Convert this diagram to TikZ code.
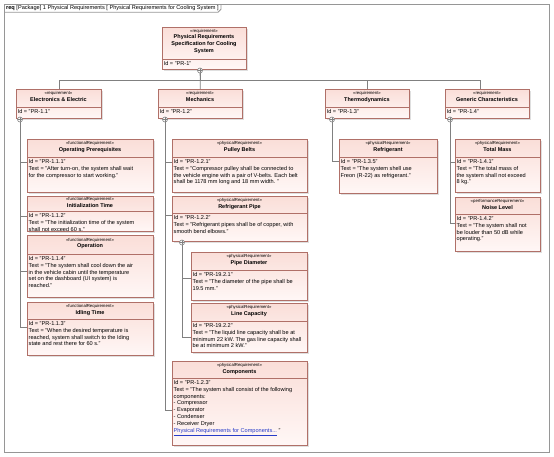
\documentclass[tikz,border=0pt]{standalone}
\usepackage{xcolor}
\usepackage{fontspec}
\setmainfont{Liberation Sans}
\usetikzlibrary{shadows}

\definecolor{reqborder}{RGB}{176,112,104}
\definecolor{reqtop}{RGB}{250,222,216}
\definecolor{reqbottom}{RGB}{255,247,246}
\definecolor{linkgray}{RGB}{128,128,128}
\definecolor{framegray}{RGB}{150,150,150}
\definecolor{hyperblue}{RGB}{40,60,200}

\tikzset{
  reqbox/.style={draw=reqborder, line width=0.7pt, top color=reqtop, bottom color=reqbottom, anchor=north west, inner sep=0pt, drop shadow={shadow xshift=1.2pt, shadow yshift=-1.2pt, fill=black!25}},
  reqhead/.style={anchor=north, align=center, inner sep=0pt, font=\fontsize{5.5}{6.6}\selectfont},
  reqtext/.style={anchor=north west, align=left, inner xsep=1.5pt, inner ysep=2pt, font=\fontsize{5.6}{6.9}\selectfont},
  reqline/.style={draw=reqborder, line width=0.7pt},
  link/.style={draw=linkgray, line width=0.7pt},
  owner/.style={circle, draw=linkgray, fill=white, line width=0.6pt, minimum size=5pt, inner sep=0pt, path picture={\draw[linkgray, line width=0.5pt] (path picture bounding box.north) -- (path picture bounding box.south) (path picture bounding box.west) -- (path picture bounding box.east);}},
}
\newcommand{\stereo}[1]{{\fontsize{4.3}{5.5}\selectfont «#1»}}

\begin{document}
\begin{tikzpicture}[x=1pt,y=1pt,yscale=-1,xscale=1]
\useasboundingbox (0,0) rectangle (554,456);

%Frame
\draw[framegray, line width=0.8pt] (4,4) rectangle (549,452);
\node[anchor=north west, inner xsep=2pt, inner ysep=1.3pt, font=\fontsize{5.6}{6.5}\selectfont] (tab) at (4,4) {\textbf{req} [Package] 1 Physical Requirements [ Physical Requirements for Cooling System ]};
\draw[framegray, line width=0.8pt] (tab.south west) -- ([xshift=-3pt]tab.south east) -- ++(3,-3) -- (tab.north east);

%Shape: Physical Requirements Specification
\node[reqbox, minimum width=84pt, minimum height=42pt] (pr1) at (162,27) {};
\draw[reqline] (162,59) -- (246,59);
\node[reqhead] (pr1-h) at (204,29) {\stereo{requirement}\\\textbf{Physical Requirements}\\\textbf{Specification for Cooling}\\\textbf{System}};
\node[reqtext] (pr1-t) at (162,59) {Id = "PR-1"};

%Shape: Electronics & Electric
\node[reqbox, minimum width=85pt, minimum height=29pt] (ee) at (16,89) {};
\draw[reqline] (16,107) -- (101,107);
\node[reqhead] (ee-h) at (58.5,91.5) {\stereo{requirement}\\\textbf{Electronics \& Electric}};
\node[reqtext] (ee-t) at (16,107) {Id = "PR-1.1"};
%Shape: Mechanics
\node[reqbox, minimum width=84pt, minimum height=29pt] (mech) at (158,89) {};
\draw[reqline] (158,107) -- (242,107);
\node[reqhead] (mech-h) at (200,91.5) {\stereo{requirement}\\\textbf{Mechanics}};
\node[reqtext] (mech-t) at (158,107) {Id = "PR-1.2"};
%Shape: Thermodynamics
\node[reqbox, minimum width=84pt, minimum height=29pt] (thermo) at (325,89) {};
\draw[reqline] (325,107) -- (409,107);
\node[reqhead] (thermo-h) at (367,91.5) {\stereo{requirement}\\\textbf{Thermodynamics}};
\node[reqtext] (thermo-t) at (325,107) {Id = "PR-1.3"};
%Shape: Generic Characteristics
\node[reqbox, minimum width=84pt, minimum height=29pt] (gen) at (445,89) {};
\draw[reqline] (445,107) -- (529,107);
\node[reqhead] (gen-h) at (487,91.5) {\stereo{requirement}\\\textbf{Generic Characteristics}};
\node[reqtext] (gen-t) at (445,107) {Id = "PR-1.4"};

%Shape: Operating Prerequisites
\node[reqbox, minimum width=126pt, minimum height=53pt] (opp) at (27,139) {};
\draw[reqline] (27,157) -- (153,157);
\node[reqhead] (opp-h) at (90,141.5) {\stereo{functionalRequirement}\\\textbf{Operating Prerequisites}};
\node[reqtext] (opp-t) at (27,157) {Id = "PR-1.1.1"\\Text = "After turn-on, the system shall wait\\for the compressor to start working."};
%Shape: Initialization Time
\node[reqbox, minimum width=126pt, minimum height=35pt] (init) at (27,196) {};
\draw[reqline] (27,211) -- (153,211);
\node[reqhead] (init-h) at (90,197.5) {\stereo{functionalRequirement}\\\textbf{Initialization Time}};
\node[reqtext] (init-t) at (27,211) {Id = "PR-1.1.2"\\Text = "The initialization time of the system\\shall not exceed 60 s."};
%Shape: Operation
\node[reqbox, minimum width=126pt, minimum height=62pt] (oper) at (27,235) {};
\draw[reqline] (27,254) -- (153,254);
\node[reqhead] (oper-h) at (90,238) {\stereo{functionalRequirement}\\\textbf{Operation}};
\node[reqtext] (oper-t) at (27,254) {Id = "PR-1.1.4"\\Text = "The system shall cool down the air\\in the vehicle cabin until the temperature\\set on the dashboard (UI system) is\\reached."};
%Shape: Idling Time
\node[reqbox, minimum width=126pt, minimum height=53pt] (idle) at (27,302) {};
\draw[reqline] (27,319) -- (153,319);
\node[reqhead] (idle-h) at (90,304.5) {\stereo{functionalRequirement}\\\textbf{Idling Time}};
\node[reqtext] (idle-t) at (27,319) {Id = "PR-1.1.3"\\Text = "When the desired temperature is\\reached, system shall switch to the Iding\\state and rest there for 60 s."};

%Shape: Pulley Belts
\node[reqbox, minimum width=135pt, minimum height=53pt] (pulley) at (172,139) {};
\draw[reqline] (172,157) -- (307,157);
\node[reqhead] (pulley-h) at (239.5,141.5) {\stereo{physicalRequirement}\\\textbf{Pulley Belts}};
\node[reqtext] (pulley-t) at (172,157) {Id = "PR-1.2.1"\\Text = "Compressor pulley shall be connected to\\the vehicle engine with a pair of V-belts. Each belt\\shall be 1178 mm long and 18 mm width. "};
%Shape: Refrigerant Pipe
\node[reqbox, minimum width=135pt, minimum height=45pt] (pipe) at (172,196) {};
\draw[reqline] (172,213) -- (307,213);
\node[reqhead] (pipe-h) at (239.5,198.5) {\stereo{physicalRequirement}\\\textbf{Refrigerant Pipe}};
\node[reqtext] (pipe-t) at (172,213) {Id = "PR-1.2.2"\\Text = "Refrigerant pipes shall be of copper, with\\smooth bend elbows."};
%Shape: Pipe Diameter
\node[reqbox, minimum width=116pt, minimum height=48pt] (diam) at (191,252) {};
\draw[reqline] (191,270) -- (307,270);
\node[reqhead] (diam-h) at (249,254.5) {\stereo{physicalRequirement}\\\textbf{Pipe Diameter}};
\node[reqtext] (diam-t) at (191,270) {Id = "PR-19.2.1"\\Text = "The diameter of the pipe shall be\\19.5 mm."};
%Shape: Line Capacity
\node[reqbox, minimum width=116pt, minimum height=49pt] (linecap) at (191,303) {};
\draw[reqline] (191,321) -- (307,321);
\node[reqhead] (linecap-h) at (249,305.5) {\stereo{physicalRequirement}\\\textbf{Line Capacity}};
\node[reqtext] (linecap-t) at (191,321) {Id = "PR-19.2.2"\\Text = "The liquid line capacity shall be at\\minimum 22 kW. The gas line capacity shall\\be at minimum 2 kW."};
%Shape: Components
\node[reqbox, minimum width=135pt, minimum height=84pt] (comp) at (172,361) {};
\draw[reqline] (172,378) -- (307,378);
\node[reqhead] (comp-h) at (239.5,363.5) {\stereo{physicalRequirement}\\\textbf{Components}};
\node[reqtext] (comp-t) at (172,378) {Id = "PR-1.2.3"\\Text = "The system shall consist of the following\\components:\\- Compressor\\- Evaporator\\- Condenser\\- Receiver Dryer\\{\color{hyperblue}\underline{Physical Requirements for Components...}}~"};

%Shape: Refrigerant
\node[reqbox, minimum width=98pt, minimum height=54pt] (refr) at (339,139) {};
\draw[reqline] (339,157) -- (437,157);
\node[reqhead] (refr-h) at (388,141.5) {\stereo{physicalRequirement}\\\textbf{Refrigerant}};
\node[reqtext] (refr-t) at (339,157) {Id = "PR-1.3.5"\\Text = "The system shell use\\Freon (R-22) as refrigerant."};

%Shape: Total Mass
\node[reqbox, minimum width=85pt, minimum height=53pt] (mass) at (455,139) {};
\draw[reqline] (455,157) -- (540,157);
\node[reqhead] (mass-h) at (497.5,141.5) {\stereo{physicalRequirement}\\\textbf{Total Mass}};
\node[reqtext] (mass-t) at (455,157) {Id = "PR-1.4.1"\\Text = "The total mass of\\the system shall not exceed\\8 kg."};
%Shape: Noise Level
\node[reqbox, minimum width=85pt, minimum height=54pt] (noise) at (455,197) {};
\draw[reqline] (455,214) -- (540,214);
\node[reqhead] (noise-h) at (497.5,199.5) {\stereo{performanceRequirement}\\\textbf{Noise Level}};
\node[reqtext] (noise-t) at (455,214) {Id = "PR-1.4.2"\\Text = "The system shall not\\be louder than 50 dB while\\operating."};

%Containment
\coordinate (pr1-c) at (200,70.5);
\coordinate (bus) at (200,80);
\coordinate (ee-c) at (20,119.5);
\coordinate (mech-c) at (165,119.5);
\coordinate (thermo-c) at (332,119.5);
\coordinate (gen-c) at (450,119.5);
\coordinate (pipe-c) at (182,242.5);

\draw[link] (pr1-c) -- (bus) -| (ee.north);
\draw[link] (pr1-c) -- (mech.north);
\draw[link] (pr1-c) -- (bus) -| (thermo.north);
\draw[link] (pr1-c) -- (bus) -| ([xshift=-7pt]gen.north);

\draw[link] (ee-c) |- (opp.west |- 0,162);
\draw[link] (ee-c) |- (init.west |- 0,216);
\draw[link] (ee-c) |- (oper.west |- 0,271);
\draw[link] (ee-c) |- (idle.west |- 0,327);
\draw[link] (mech-c) |- (pulley.west |- 0,162);
\draw[link] (mech-c) |- (pipe.west |- 0,215);
\draw[link] (mech-c) |- (comp.west |- 0,410);
\draw[link] (pipe-c) |- (diam.west |- 0,278);
\draw[link] (pipe-c) |- (linecap.west |- 0,337);
\draw[link] (thermo-c) |- (refr.west |- 0,161);
\draw[link] (gen-c) |- (mass.west |- 0,162);
\draw[link] (gen-c) |- (noise.west |- 0,223);

\foreach \c in {pr1-c,ee-c,mech-c,thermo-c,gen-c,pipe-c}
  \node[owner] at (\c) {};
\end{tikzpicture}
\end{document}
